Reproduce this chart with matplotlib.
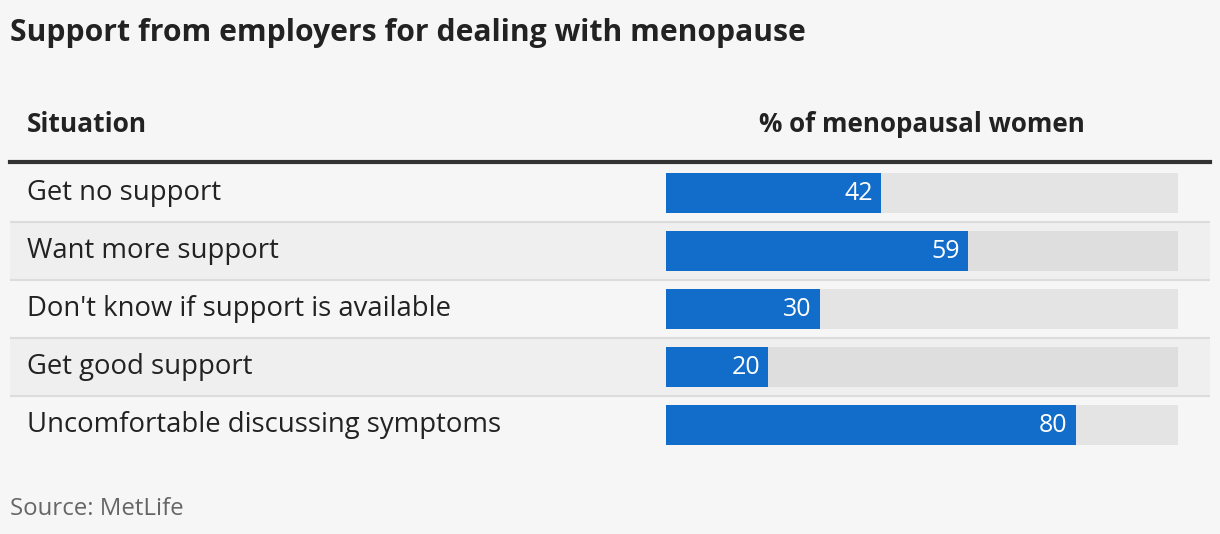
import matplotlib
matplotlib.use("Agg")
import matplotlib.pyplot as plt
from matplotlib.lines import Line2D

plt.rcParams['font.family'] = ['Open Sans', 'DejaVu Sans']

title = "Support from employers for dealing with menopause"
col_label = "Situation"
val_label = "% of menopausal women"
situations = ["Get no support", "Want more support", "Don't know if support is available",
              "Get good support", "Uncomfortable discussing symptoms"]
values = [42, 59, 30, 20, 80]
source = "Source: MetLife"

W, H = 1220, 534
BG = "#f6f6f6"
BAND = "#efefef"
BLUE = "#116dc9"
TRACK1 = "#e4e4e4"
TRACK2 = "#dedede"
SEP = "#dcdcdc"
TXT = "#222222"

fig = plt.figure(figsize=(W / 100, H / 100), dpi=100, facecolor=BG)

def fx(px):
    return px / W

def fy(py):
    return 1 - py / H

top, bottom = 164, 454
n = len(situations)

# full-width table axes
tab = fig.add_axes([fx(10), fy(bottom), fx(1200), (bottom - top) / H])
tab.set_xlim(0, 1200)
tab.set_ylim(n - 0.5, -0.5)
tab.axis('off')
for i, s in enumerate(situations):
    if i % 2 == 1:
        tab.axhspan(i - 0.5, i + 0.5, color=BAND, lw=0, zorder=0)
    if i < n - 1:
        tab.axhline(i + 0.5, color=SEP, lw=1.5, zorder=1)
    tab.text(17, i, s, ha='left', va='center', fontsize=19.8, color=TXT)

# bar axes
bx = fig.add_axes([fx(666), fy(bottom), fx(512), (bottom - top) / H], sharey=tab)
bx.set_xlim(0, 100)
bx.set_ylim(n - 0.5, -0.5)
bx.axis('off')
bx.patch.set_alpha(0)
ypos = list(range(n))
tracks = [TRACK2 if i % 2 == 1 else TRACK1 for i in ypos]
bx.barh(ypos, [100] * n, height=0.69, color=tracks, lw=0, zorder=1)
bx.barh(ypos, values, height=0.69, color=BLUE, lw=0, zorder=2)
for i, v in enumerate(values):
    bx.annotate(str(v), (v, i), xytext=(-6, 0), textcoords='offset points',
                ha='right', va='center', fontsize=18, color='white', zorder=3)

# header line
fig.add_artist(Line2D([fx(10), fx(1210)], [fy(162), fy(162)], color="#333333", lw=3, transform=fig.transFigure))

fig.text(fx(10), fy(33), title, ha='left', va='center', fontsize=21.7, fontweight='bold', color=TXT)
fig.text(fx(27), fy(125), col_label, ha='left', va='center', fontsize=19, fontweight='bold', color=TXT)
fig.text(fx(922), fy(125), val_label, ha='center', va='center', fontsize=18.7, fontweight='bold', color=TXT)
fig.text(fx(10), fy(509), source, ha='left', va='center', fontsize=17.3, color="#666666")

fig.savefig("out.png", dpi=100, facecolor=BG)
